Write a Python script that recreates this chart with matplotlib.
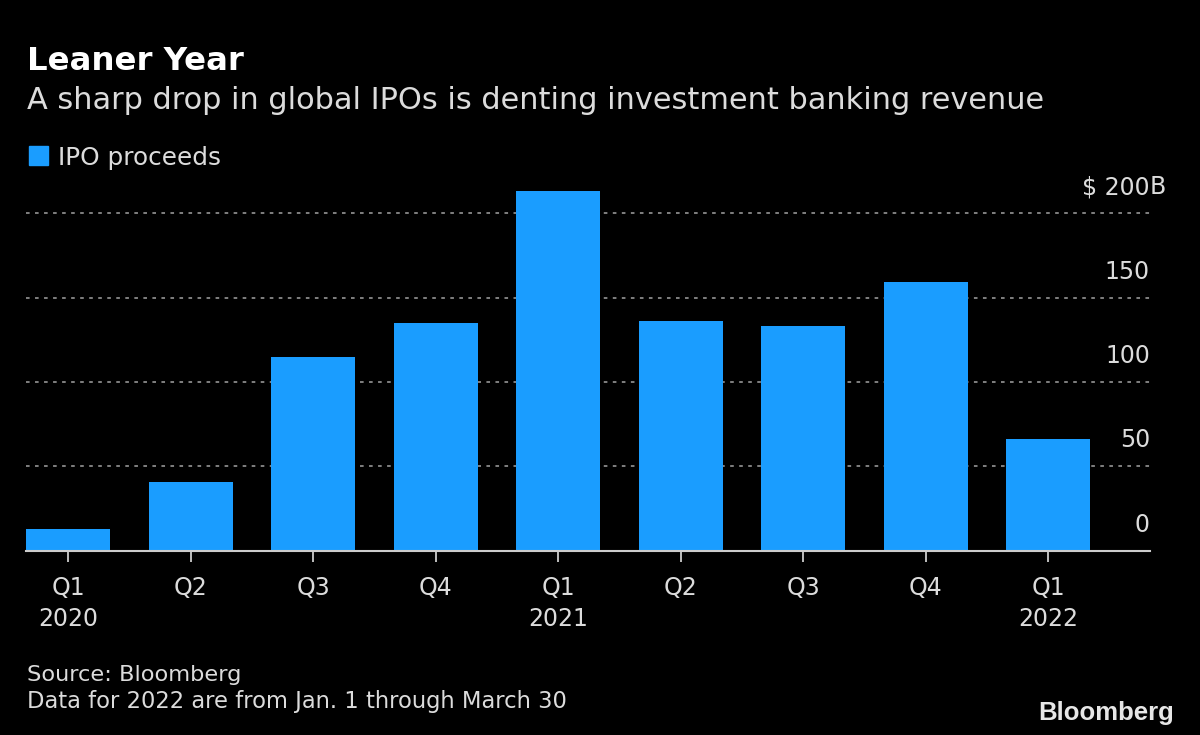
import matplotlib
matplotlib.use('Agg')
import matplotlib.pyplot as plt
import matplotlib.transforms as mtransforms

# Data (IPO proceeds, $B)
quarters = ['Q1\n2020', 'Q2', 'Q3', 'Q4', 'Q1\n2021', 'Q2', 'Q3', 'Q4', 'Q1\n2022']
proceeds = [12.7, 41, 115, 135, 213, 136, 133, 159, 66]
y_ticks = [0, 50, 100, 150, 200]
y_labels = ['0', '50', '100', '150', '200']

bar_color = '#1a9dff'
text_color = '#dcdcdc'

plt.rcParams['font.family'] = ['DejaVu Sans']

fig = plt.figure(figsize=(12, 7.35), dpi=100, facecolor='black')
ax = fig.add_axes([0.0217, 0.2507, 0.9366, 0.4935], facecolor='black')

x = list(range(len(proceeds)))
ax.bar(x, proceeds, width=0.685, color=bar_color, zorder=3)

ax.set_xlim(-0.343, 8.83)
ax.set_ylim(0, 215)

# grid lines (dotted) except zero
for yv in y_ticks[1:]:
    ax.axhline(yv, color='#8a8a8a', linestyle=(0, (2, 3)), linewidth=1.3, zorder=1)

# y labels sitting above grid lines at right edge
offset = mtransforms.ScaledTranslation(0, 10 / 72, fig.dpi_scale_trans)
ytrans = ax.get_yaxis_transform() + offset
for yv, lab in zip(y_ticks, y_labels):
    if yv == 200:
        lab = '$ ' + lab
    ax.text(1.0, yv, lab, transform=ytrans, ha='right', va='bottom',
            color=text_color, fontsize=17)
ax.text(1.0, 200, 'B', transform=ytrans, ha='left', va='bottom',
        color=text_color, fontsize=17)

ax.set_yticks([])
ax.set_xticks(x)
ax.set_xticklabels(quarters, color=text_color, fontsize=17, linespacing=1.4)
ax.tick_params(axis='x', length=8, width=1.3, color='#cccccc', pad=10)

for s in ['top', 'left', 'right']:
    ax.spines[s].set_visible(False)
ax.spines['bottom'].set_color('#cccccc')
ax.spines['bottom'].set_linewidth(1.5)
ax.spines['bottom'].set_zorder(4)

# titles
fig.text(0.0225, 0.905, 'Leaner Year', color='white', fontsize=23.3,
         fontweight='bold', va='baseline')
fig.text(0.0225, 0.852, 'A sharp drop in global IPOs is denting investment banking revenue',
         color=text_color, fontsize=21.9, va='baseline')

# legend
fig.patches.append(plt.Rectangle((0.0245, 0.776), 0.0158, 0.026, transform=fig.transFigure,
                                 color=bar_color))
fig.text(0.048, 0.776, 'IPO proceeds', color=text_color, fontsize=17.8, va='baseline')

# footer
fig.text(0.0225, 0.0735, 'Source: Bloomberg', color=text_color, fontsize=16.2, va='baseline')
fig.text(0.0225, 0.0367, 'Data for 2022 are from Jan. 1 through March 30', color=text_color,
         fontsize=16.3, va='baseline')
fig.text(0.978, 0.0204, 'Bloomberg', color='#e6e6e6', fontsize=18.5, fontweight='bold',
         family='Liberation Sans', ha='right', va='baseline')

fig.savefig('out.png', dpi=100, facecolor='black')
